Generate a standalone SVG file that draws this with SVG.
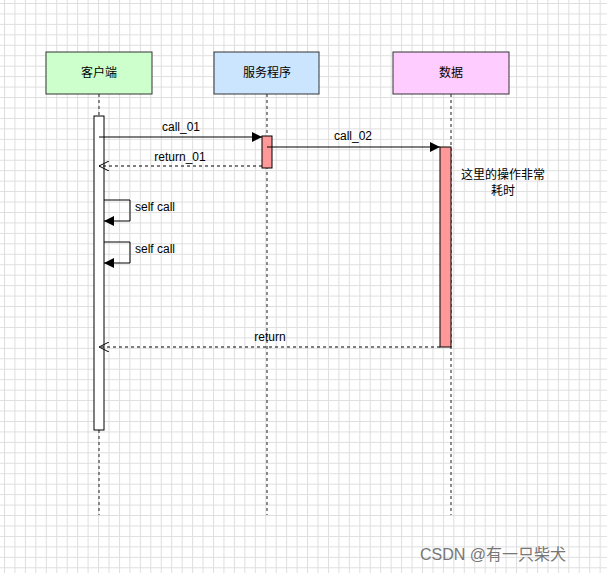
<svg xmlns="http://www.w3.org/2000/svg" width="607" height="573" viewBox="0 0 607 573">
<defs>
<pattern id="grid" width="10.45" height="10.45" patternUnits="userSpaceOnUse" x="4" y="3">
<rect width="10.45" height="10.45" fill="#fff"/>
<path d="M0 0.5H10.45M0.5 0V10.45" fill="none" stroke="#dedede" stroke-width="1"/>
</pattern>
<marker id="fa" viewBox="0 0 10 10" refX="10" refY="5" markerWidth="10" markerHeight="10" markerUnits="userSpaceOnUse" orient="auto"><path d="M0 0L10 5L0 10z" fill="#000"/></marker>
<marker id="oa" viewBox="0 0 10 10" refX="10" refY="5" markerWidth="10" markerHeight="10" markerUnits="userSpaceOnUse" orient="auto"><path d="M0 0L10 5L0 10" fill="none" stroke="#000"/></marker>
</defs>
<style>
text{font-family:"Liberation Sans","Noto Sans CJK SC",sans-serif;font-size:12px;fill:#000}
.life{stroke:#444;stroke-dasharray:3 3;stroke-width:1.2}
.box{stroke:#333;stroke-width:1}
.m{stroke:#000;fill:none;stroke-width:1}
</style>
<rect width="607" height="573" fill="url(#grid)"/>
<g id="lifelines">
<line class="life" x1="99" y1="94" x2="99" y2="515"/>
<line class="life" x1="267" y1="94" x2="267" y2="515"/>
<line class="life" x1="451" y1="94" x2="451" y2="515"/>
</g>
<g id="client"><rect class="box" x="46" y="52" width="106" height="42" fill="#ccffcc"/><text x="99" y="77" text-anchor="middle">客户端</text></g>
<g id="service"><rect class="box" x="214" y="52" width="105" height="42" fill="#cce5ff"/><text x="267" y="77" text-anchor="middle">服务程序</text></g>
<g id="data"><rect class="box" x="393" y="52" width="116" height="42" fill="#ffccff"/><text x="451" y="77" text-anchor="middle">数据</text></g>
<g id="activations">
<rect x="94" y="116" width="10" height="314" fill="#fff" stroke="#000"/>
<rect x="262" y="136" width="10" height="32" fill="#ff9999" stroke="#000"/>
<rect x="440" y="147" width="11" height="200" fill="#ff9999" stroke="#000"/>
</g>
<g id="connectors">
<line class="m" x1="99" y1="137" x2="262" y2="137" marker-end="url(#fa)"/>
<line class="m" x1="267" y1="147" x2="440" y2="147" marker-end="url(#fa)"/>
<line class="m" x1="262" y1="166" x2="99" y2="166" stroke-dasharray="3 3" marker-end="url(#oa)"/>
<path class="m" d="M104 200H130V221H104" marker-end="url(#fa)"/>
<path class="m" d="M104 242H130V263H104" marker-end="url(#fa)"/>
<line class="m" x1="440" y1="347" x2="99" y2="347" stroke-dasharray="3 3" marker-end="url(#oa)"/>
</g>
<g id="labels">
<text x="181" y="131" text-anchor="middle">call_01</text>
<text x="353" y="140" text-anchor="middle">call_02</text>
<text x="180" y="161" text-anchor="middle">return_01</text>
<text x="135" y="211">self call</text>
<text x="135" y="253">self call</text>
<text x="270" y="341" text-anchor="middle">return</text>
<text x="503" y="179" text-anchor="middle">这里的操作非常</text>
<text x="503" y="195" text-anchor="middle">耗时</text>
<text x="420" y="560" style="font-size:16px;fill:#777">CSDN @有一只柴犬</text>
</g>
</svg>
